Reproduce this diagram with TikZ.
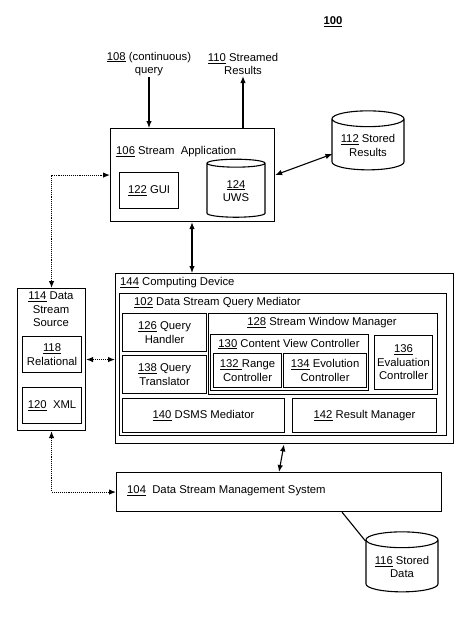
\documentclass[tikz,border=0pt]{standalone}
\usepackage{fontspec}
\setmainfont{Liberation Sans}
\usetikzlibrary{
  arrows.meta,
  shapes.geometric,
  positioning,
  calc
}
\newcommand{\refno}[1]{\underline{#1}}
\tikzset{
  blk/.style={
    draw, line width=1.1pt, align=center, inner sep=1pt,
    font=\fontsize{11.3}{13.5}\selectfont, anchor=north west
  },
  frame/.style={blk, line width=1.4pt},
  lbl/.style={font=\fontsize{11.3}{13.5}\selectfont, align=center, inner sep=1pt},
  store/.style={
    draw, line width=1.1pt, cylinder, shape border rotate=90, aspect=0.28,
    fill=white, align=center, inner sep=1pt, font=\fontsize{11.3}{13.5}\selectfont
  },
  arr/.style={-{Latex[length=7pt, width=5.5pt]}, line width=1.1pt},
  dbl/.style={{Latex[length=7pt, width=5.5pt]}-{Latex[length=7pt, width=5.5pt]}, line width=1.1pt},
  dotarr/.style={{Latex[length=7pt, width=5.5pt]}-{Latex[length=7pt, width=5.5pt]}, line width=1.1pt, densely dotted}
}

\begin{document}
\begin{tikzpicture}[x=1pt, y=-1pt]
  \useasboundingbox (0,0) rectangle (474,637);

  \node[lbl, font=\fontsize{11.3}{13.5}\selectfont\bfseries] (fig) at (333,22) {\refno{100}};

  % stream application
  \node[lbl] (qry) at (149,64) {\refno{108} (continuous)\\query};
  \node[lbl] (out) at (243,64) {\refno{110} Streamed\\Results};
  \node[blk, minimum width=164, minimum height=93] (app) at (110,128) {};
  \node[lbl, anchor=west] (applbl) at (115,152) {\refno{106} Stream\ \ Application};
  \node[blk, minimum width=59, minimum height=36] (gui) at (119,172) {\refno{122} GUI};
  \node[store, minimum width=58, minimum height=58] (uws) at (236,191) {\refno{124}\\UWS};
  \node[store, minimum width=72, minimum height=59] (stored) at (368,145.5) {\refno{112} Stored\\Results};

  % data stream source
  \node[blk, minimum width=68, minimum height=142] (src) at (17,288) {};
  \node[lbl, anchor=north] (srclbl) at (51,291) {\refno{114} Data\\Stream\\Source};
  \node[blk, minimum width=59, minimum height=36] (rel) at (22,336) {\refno{118}\\Relational};
  \node[blk, minimum width=59, minimum height=36] (xml) at (22,387) {\refno{120}\ \ XML};

  % computing device
  \node[frame, minimum width=338, minimum height=170] (dev) at (115,273) {};
  \node[lbl, anchor=west] (devlbl) at (119,283) {\refno{144} Computing Device};
  \node[frame, minimum width=327, minimum height=142] (dsqm) at (119,293) {};
  \node[lbl, anchor=west] (dsqmlbl) at (133,303) {\refno{102} Data Stream Query Mediator};
  \node[blk, minimum width=84, minimum height=38] (qh) at (122,313) {\refno{126} Query\\Handler};
  \node[blk, minimum width=84, minimum height=38] (qt) at (122,355) {\refno{138} Query\\Translator};
  \node[blk, minimum width=229, minimum height=81] (swm) at (208,313) {};
  \node[lbl] (swmlbl) at (322,323) {\refno{128} Stream Window Manager};
  \node[blk, minimum width=158, minimum height=56] (cvc) at (210,334) {};
  \node[lbl] (cvclbl) at (289,344) {\refno{130} Content View Controller};
  \node[blk, minimum width=68, minimum height=34] (rng) at (213,353) {\refno{132 }Range\\Controller};
  \node[blk, minimum width=83, minimum height=34] (evo) at (283,353) {\refno{134} Evolution\\Controller};
  \node[blk, minimum width=58, minimum height=54] (evl) at (374,335) {\refno{136}\\Evaluation\\Controller};
  \node[blk, minimum width=162, minimum height=34] (dmed) at (122,398) {\refno{140} DSMS Mediator};
  \node[blk, minimum width=144, minimum height=34] (rman) at (292,398) {\refno{142} Result Manager};

  % dsms
  \node[blk, minimum width=325, minimum height=39] (dsms) at (116,472) {};
  \node[lbl, anchor=west] (dsmslbl) at (126,491) {\refno{104}\ \ Data Stream Management System};
  \node[store, minimum width=72, minimum height=60] (data) at (402,567) {\refno{116} Stored\\Data};

  % connectors
  \draw[arr] (qry.south) -- (qry.south |- app.north);
  \draw[arr] (out.south |- app.north) -- (out.south);
  \draw[dbl] (app.east) -- ($(stored.west)+(1,8.5)$);
  \draw[dbl] ($(app.south west)+(82,0)$) -- ($(dev.north west)+(77,0)$);
  \draw[dotarr] (src.north) |- (app.west);
  \draw[dotarr] (src.east) -- (src.east -| dev.west);
  \draw[dbl] ($(dev.south west)+(169,0)$) -- ($(dsms.north west)+(163,0)$);
  \draw[dotarr] (src.south) |- (dsms.west);
  \draw[line width=1.1pt] ($(dsms.south west)+(226,0)$) -- ($(data.west)+(0,-26)$);
\end{tikzpicture}
\end{document}
